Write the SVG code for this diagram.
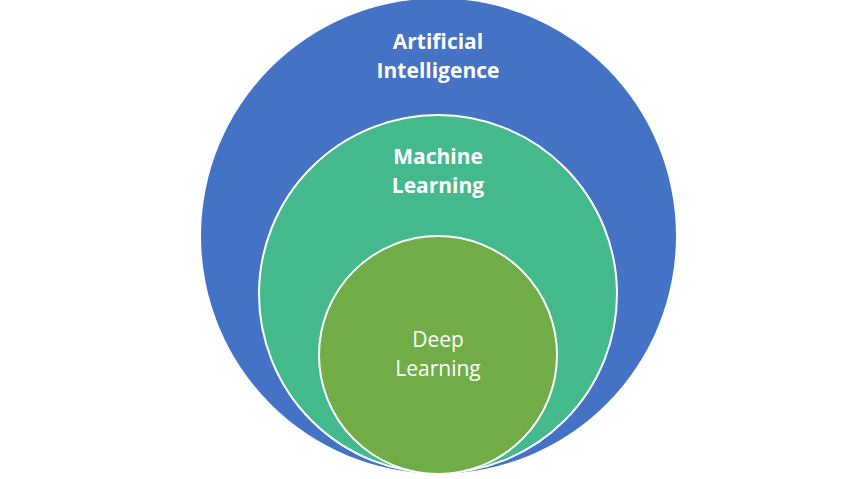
<svg xmlns="http://www.w3.org/2000/svg" width="853" height="479" viewBox="0 0 853 479">
<style>
.c{stroke:#fff;stroke-width:2}
.t{font-family:"Open Sans","Liberation Sans",sans-serif;font-size:21px;fill:#fff;text-anchor:middle;dominant-baseline:middle}
.b{font-weight:bold}
</style>
<rect width="853" height="479" fill="#fff"/>
<g id="ai"><circle cx="438.5" cy="236" r="237.5" fill="#4472C4"/>
<text class="t b" x="438" y="43">Artificial</text><text class="t b" x="438" y="72">Intelligence</text></g>
<g id="ml"><circle class="c" cx="438" cy="294" r="179" fill="#44BA8C"/>
<text class="t b" x="438" y="158">Machine</text><text class="t b" x="438" y="187">Learning</text></g>
<g id="dl"><circle class="c" cx="438" cy="355" r="119" fill="#70AD47"/>
<text class="t" x="438" y="341">Deep</text><text class="t" x="438" y="370">Learning</text></g>
<g id="connectors"/>
</svg>
